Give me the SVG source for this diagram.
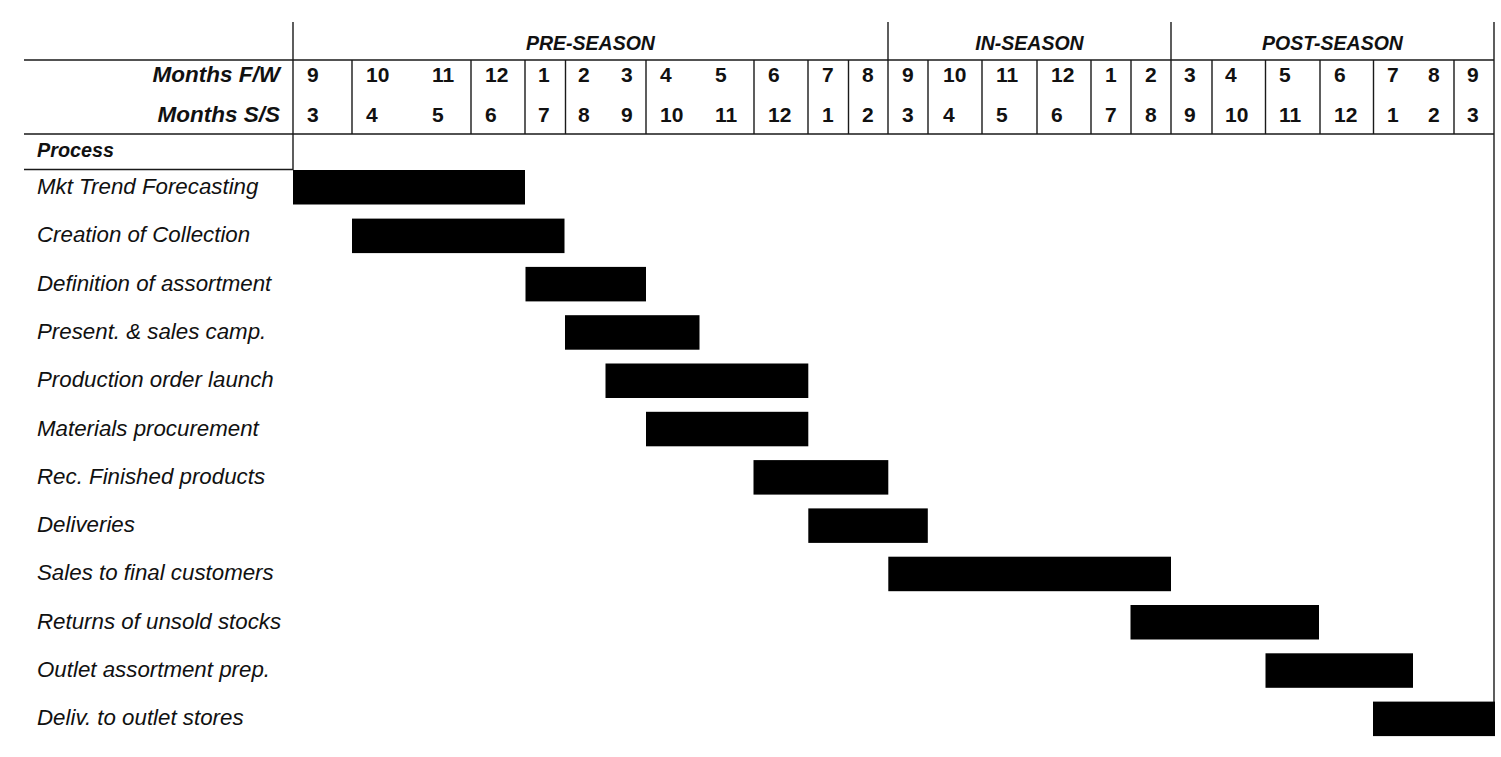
<svg xmlns="http://www.w3.org/2000/svg" width="1501" height="757" viewBox="0 0 1501 757">
<style>
.ln{stroke:#1a1a1a;stroke-width:1.4;fill:none}
.bar{fill:#000}
.lbl{font-family:"Liberation Sans",Arial,sans-serif;font-style:italic;font-size:22.3px;fill:#111}
.hd{font-family:"Liberation Sans",Arial,sans-serif;font-style:italic;font-weight:bold;font-size:22.5px;fill:#111}
.pr{font-family:"Liberation Sans",Arial,sans-serif;font-style:italic;font-weight:bold;font-size:19.8px;fill:#111}
.ssn{font-family:"Liberation Sans",Arial,sans-serif;font-style:italic;font-weight:bold;font-size:19.5px;fill:#111;text-anchor:middle}
.num{font-family:"Liberation Sans",Arial,sans-serif;font-weight:bold;font-size:21px;fill:#111}
</style>
<rect width="1501" height="757" fill="#fff"/>
<g id="grid">
<path class="ln" d="M24 60H1494M24 134H1494M24 169.5H293M293 22V170M888 22V134M1171 22V134M1494 22V736"/>
<path class="ln" d="M352 60V134M471 60V134M525 60V134M565.5 60V134M646 60V134M754 60V134M808 60V134M848.5 60V134M928 60V134M982 60V134M1037 60V134M1091 60V134M1131 60V134M1212 60V134M1265.5 60V134M1320 60V134M1373.5 60V134M1454 60V134"/>
</g>
<g id="seasons">
<text class="ssn" x="590.5" y="50">PRE-SEASON</text>
<text class="ssn" x="1029.5" y="50">IN-SEASON</text>
<text class="ssn" x="1332.5" y="50">POST-SEASON</text>
</g>
<g id="month-labels">
<text class="hd" x="280" y="82" text-anchor="end">Months F/W</text>
<text class="hd" x="280" y="121.5" text-anchor="end">Months S/S</text>
<text class="pr" x="37" y="157">Process</text>
</g>
<g id="months-fw" class="num">
<text x="307" y="82">9</text><text x="366" y="82">10</text><text x="432" y="82">11</text><text x="485" y="82">12</text><text x="538" y="82">1</text><text x="578" y="82">2</text><text x="621" y="82">3</text><text x="660" y="82">4</text><text x="715" y="82">5</text><text x="768" y="82">6</text><text x="822" y="82">7</text><text x="862" y="82">8</text><text x="902" y="82">9</text><text x="943" y="82">10</text><text x="996" y="82">11</text><text x="1051" y="82">12</text><text x="1105" y="82">1</text><text x="1145" y="82">2</text><text x="1184" y="82">3</text><text x="1225" y="82">4</text><text x="1279" y="82">5</text><text x="1334" y="82">6</text><text x="1387" y="82">7</text><text x="1428" y="82">8</text><text x="1467" y="82">9</text>
</g>
<g id="months-ss" class="num">
<text x="307" y="121.5">3</text><text x="366" y="121.5">4</text><text x="432" y="121.5">5</text><text x="485" y="121.5">6</text><text x="538" y="121.5">7</text><text x="578" y="121.5">8</text><text x="621" y="121.5">9</text><text x="660" y="121.5">10</text><text x="715" y="121.5">11</text><text x="768" y="121.5">12</text><text x="822" y="121.5">1</text><text x="862" y="121.5">2</text><text x="902" y="121.5">3</text><text x="943" y="121.5">4</text><text x="996" y="121.5">5</text><text x="1051" y="121.5">6</text><text x="1105" y="121.5">7</text><text x="1145" y="121.5">8</text><text x="1184" y="121.5">9</text><text x="1225" y="121.5">10</text><text x="1279" y="121.5">11</text><text x="1334" y="121.5">12</text><text x="1387" y="121.5">1</text><text x="1428" y="121.5">2</text><text x="1467" y="121.5">3</text>
</g>
<g id="p1"><text class="lbl" x="37" y="194">Mkt Trend Forecasting</text><rect class="bar" x="293" y="170" width="232" height="34.5"/></g>
<g id="p2"><text class="lbl" x="37" y="242.3">Creation of Collection</text><rect class="bar" x="352" y="218.6" width="212.5" height="34.5"/></g>
<g id="p3"><text class="lbl" x="37" y="290.6">Definition of assortment</text><rect class="bar" x="525.5" y="266.9" width="120.5" height="34.5"/></g>
<g id="p4"><text class="lbl" x="37" y="338.9">Present. &amp; sales camp.</text><rect class="bar" x="565" y="315.2" width="134.5" height="34.5"/></g>
<g id="p5"><text class="lbl" x="37" y="387.2">Production order launch</text><rect class="bar" x="605.5" y="363.5" width="202.8" height="34.5"/></g>
<g id="p6"><text class="lbl" x="37" y="435.5">Materials procurement</text><rect class="bar" x="646" y="411.8" width="162.3" height="34.5"/></g>
<g id="p7"><text class="lbl" x="37" y="483.8">Rec. Finished products</text><rect class="bar" x="753.5" y="460.1" width="134.8" height="34.5"/></g>
<g id="p8"><text class="lbl" x="37" y="532.1">Deliveries</text><rect class="bar" x="808.3" y="508.4" width="119.5" height="34.5"/></g>
<g id="p9"><text class="lbl" x="37" y="580.4">Sales to final customers</text><rect class="bar" x="888.3" y="556.7" width="282.7" height="34.5"/></g>
<g id="p10"><text class="lbl" x="37" y="628.7">Returns of unsold stocks</text><rect class="bar" x="1130.5" y="605" width="188.5" height="34.5"/></g>
<g id="p11"><text class="lbl" x="37" y="677">Outlet assortment prep.</text><rect class="bar" x="1265.5" y="653.3" width="147.5" height="34.5"/></g>
<g id="p12"><text class="lbl" x="37" y="725.3">Deliv. to outlet stores</text><rect class="bar" x="1373" y="701.6" width="122" height="34.5"/></g>
</svg>
